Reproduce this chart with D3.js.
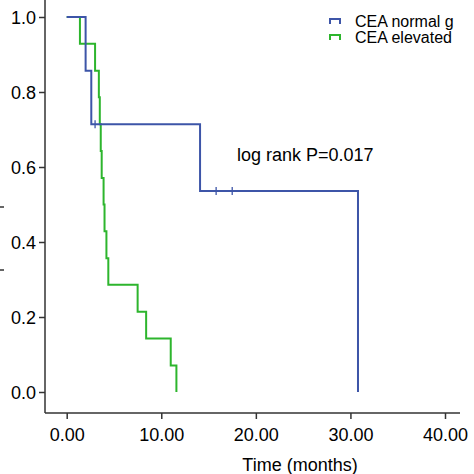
<!DOCTYPE html>
<html><head><meta charset="utf-8">
<script src="https://cdn.jsdelivr.net/npm/d3@7"></script>
<style>body{margin:0;background:#fff;} text{font-family:Arial,"Liberation Sans",sans-serif;}</style>
</head><body>
<script>
// survival steps: [time, survival after event]
var normalSteps = [[0, 1], [2.0, 0.857], [2.6, 0.714], [14.1, 0.536], [30.8, 0]];
var normalCensor = [[3.0, 0.714], [15.8, 0.536], [17.5, 0.536]];
var elevatedSteps = [[0, 1], [1.4, 0.929], [3.0, 0.857], [3.4, 0.786], [3.5, 0.714], [3.6, 0.643],
    [3.7, 0.571], [3.9, 0.5], [4.0, 0.429], [4.2, 0.357], [4.4, 0.286], [7.5, 0.214],
    [8.4, 0.143], [11.0, 0.071], [11.6, 0]];
var xTicks = [0, 10, 20, 30, 40];
var yTicks = [0, 0.2, 0.4, 0.6, 0.8, 1.0];

var W = 474, H = 474;
var svg = d3.select("body").append("svg").attr("width", W).attr("height", H);

var x = d3.scaleLinear().domain([0, 40]).range([66.7, 445]);
var y = d3.scaleLinear().domain([0, 1]).range([392, 17]);

// axes
svg.append("g")
    .attr("transform", "translate(0,413)")
    .call(d3.axisBottom(x).tickValues(xTicks).tickFormat(d3.format(".2f")).tickSize(6).tickSizeOuter(0))
    .call(g => g.select(".domain").attr("d", "M45,0H460"))
    .call(g => g.selectAll("text").attr("font-size", 18).attr("dy", "1.05em"));
svg.append("g")
    .attr("transform", "translate(45,0)")
    .call(d3.axisLeft(y).tickValues(yTicks).tickFormat(d3.format(".1f")).tickSize(6).tickSizeOuter(0))
    .call(g => g.select(".domain").attr("d", "M0,0V413"))
    .call(g => g.selectAll("text").attr("font-size", 18).attr("dy", "0.35em"));
svg.selectAll(".domain, .tick line").attr("stroke", "#333").attr("stroke-width", 1.5);

// remnants of the cut-off y label on the far left
[207, 270].forEach(function(ly) {
    svg.append("line").attr("x1", 0).attr("x2", 4).attr("y1", ly).attr("y2", ly)
        .attr("stroke", "#333").attr("stroke-width", 1.5);
});

var line = d3.line().x(d => x(d[0])).y(d => y(d[1])).curve(d3.curveStepAfter);

function drawCurve(steps, censor, color) {
    svg.append("path").attr("d", line(steps)).attr("fill", "none")
        .attr("stroke", color).attr("stroke-width", 2);
    svg.selectAll(null).data(censor).enter().append("line")
        .attr("x1", d => x(d[0])).attr("x2", d => x(d[0]))
        .attr("y1", d => y(d[1]) - 4).attr("y2", d => y(d[1]) + 4)
        .attr("stroke", color).attr("stroke-width", 1.3);
}
drawCurve(elevatedSteps, [], "#2db52d");
drawCurve(normalSteps, normalCensor, "#3d55a8");

svg.append("text").attr("x", 237).attr("y", 161).attr("font-size", 18).text("log rank P=0.017");
svg.append("text").attr("x", 300).attr("y", 471).attr("font-size", 18)
    .attr("text-anchor", "middle").text("Time (months)");

// legend
var legend = [["CEA normal g", "#3d55a8"], ["CEA elevated", "#2db52d"]];
legend.forEach(function(l, i) {
    var ly = 22 + i * 16;
    svg.append("path").attr("d", "M330," + (ly + 2) + "V" + (ly - 3) + "H340V" + (ly + 2))
        .attr("fill", "none").attr("stroke", l[1]).attr("stroke-width", 2);
    svg.append("text").attr("x", 355).attr("y", ly + 5).attr("font-size", 16).text(l[0]);
});
</script>
</body></html>
